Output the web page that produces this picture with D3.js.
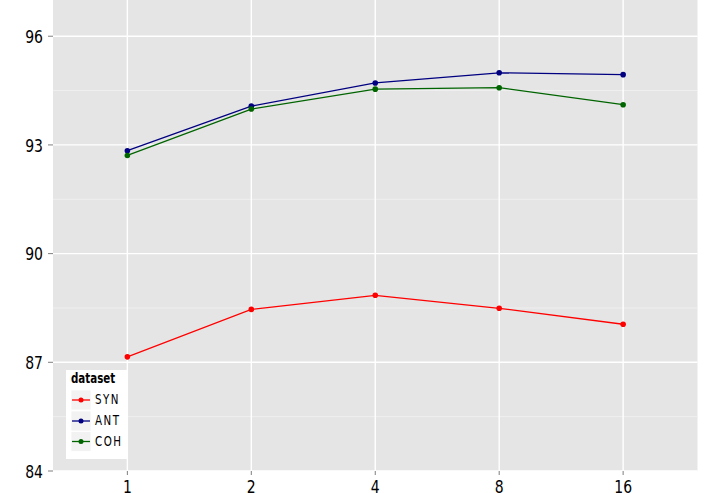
<!DOCTYPE html>
<html><head><meta charset="utf-8">
<script src="https://cdn.jsdelivr.net/npm/d3@7"></script>
<style>body{margin:0;background:#fff}svg{display:block}</style>
</head><body>
<svg id="chart" width="707" height="493"></svg>
<script>
const categories = ["1","2","4","8","16"];
const seriesNames = ["SYN","ANT","COH"];
const SYN = [87.15, 88.46, 88.85, 88.49, 88.05];
const ANT = [92.84, 94.07, 94.71, 94.99, 94.94];
const COH = [92.71, 93.99, 94.54, 94.58, 94.11];
const yTicks = [84, 87, 90, 93, 96];
const yMinor = [85.5, 88.5, 91.5, 94.5];
const colors = {SYN:"#ff0000", ANT:"#000080", COH:"#006400"};
const seriesData = {SYN, ANT, COH};

const svg = d3.select("#chart");
const L = 53, R = 697.5, T = 0, B = 471;
const x = d3.scalePoint().domain(categories).range([L, R]).padding(0.6);
const y = d3.scaleLinear().domain([84, 97]).range([B, T]);
const SY = 1.3;

svg.append("rect").attr("x", L).attr("y", T).attr("width", R - L).attr("height", B - T).attr("fill", "#e5e5e5");

svg.append("g").selectAll("line").data(yMinor).join("line")
  .attr("x1", L).attr("x2", R).attr("y1", d => y(d)).attr("y2", d => y(d))
  .attr("stroke", "#f2f2f2").attr("stroke-width", 0.8);
svg.append("g").selectAll("line").data(yTicks).join("line")
  .attr("x1", L).attr("x2", R).attr("y1", d => y(d)).attr("y2", d => y(d))
  .attr("stroke", "#fff").attr("stroke-width", 1.4);
svg.append("g").selectAll("line").data(categories).join("line")
  .attr("x1", d => x(d)).attr("x2", d => x(d)).attr("y1", T).attr("y2", B)
  .attr("stroke", "#fff").attr("stroke-width", 1.4);

// axes
const yAxis = svg.append("g");
yAxis.selectAll("line").data(yTicks).join("line")
  .attr("x1", L - 5).attr("x2", L).attr("y1", d => y(d)).attr("y2", d => y(d))
  .attr("stroke", "#7f7f7f").attr("stroke-width", 1);
yAxis.selectAll("text").data(yTicks).join("text")
  .attr("transform", d => `translate(${L - 10},${y(d) + 6.7}) scale(1,${SY})`)
  .attr("text-anchor", "end").attr("font-family", "DejaVu Sans").attr("font-size", 14)
  .attr("fill", "#000").text(d => d);

const xAxis = svg.append("g");
xAxis.selectAll("line").data(categories).join("line")
  .attr("x1", d => x(d)).attr("x2", d => x(d)).attr("y1", B).attr("y2", B + 4)
  .attr("stroke", "#7f7f7f").attr("stroke-width", 1);
xAxis.selectAll("text").data(categories).join("text")
  .attr("transform", d => `translate(${x(d)},${492.5}) scale(1,${SY})`)
  .attr("text-anchor", "middle").attr("font-family", "DejaVu Sans").attr("font-size", 14)
  .attr("fill", "#000").text(d => d);

// lines
const line = d3.line().x((d, i) => x(categories[i])).y(d => y(d));
seriesNames.forEach(name => {
  const g = svg.append("g");
  g.append("path").datum(seriesData[name]).attr("d", line)
    .attr("fill", "none").attr("stroke", colors[name]).attr("stroke-width", 1.3);
  g.selectAll("circle").data(seriesData[name]).join("circle")
    .attr("cx", (d, i) => x(categories[i])).attr("cy", d => y(d)).attr("r", 2.8)
    .attr("fill", colors[name]);
});

// legend
const lg = svg.append("g");
lg.append("rect").attr("x", 66).attr("y", 370).attr("width", 61.5).attr("height", 89).attr("fill", "#fff");
lg.append("text").attr("transform", `translate(71,383.3) scale(1,${SY})`)
  .attr("font-family", "DejaVu Sans").attr("font-weight", "bold").attr("font-size", 10.3)
  .text("dataset");
const rowC = [400, 421, 441.5];
seriesNames.forEach((name, i) => {
  const cy = rowC[i];
  lg.append("rect").attr("x", 71).attr("y", cy - 10).attr("width", 20).attr("height", 20)
    .attr("fill", "#f2f2f2").attr("stroke", "#fff").attr("stroke-width", 0.8);
  lg.append("line").attr("x1", 72).attr("x2", 90).attr("y1", cy).attr("y2", cy)
    .attr("stroke", colors[name]).attr("stroke-width", 1.3);
  lg.append("circle").attr("cx", 81).attr("cy", cy).attr("r", 2.5).attr("fill", colors[name]);
  lg.append("text").attr("transform", `translate(95,${cy + 4.3}) scale(1,${SY})`)
    .attr("font-family", "DejaVu Sans").attr("font-size", 10.3).attr("letter-spacing", 1.5)
    .text(name);
});
</script>
</body></html>
